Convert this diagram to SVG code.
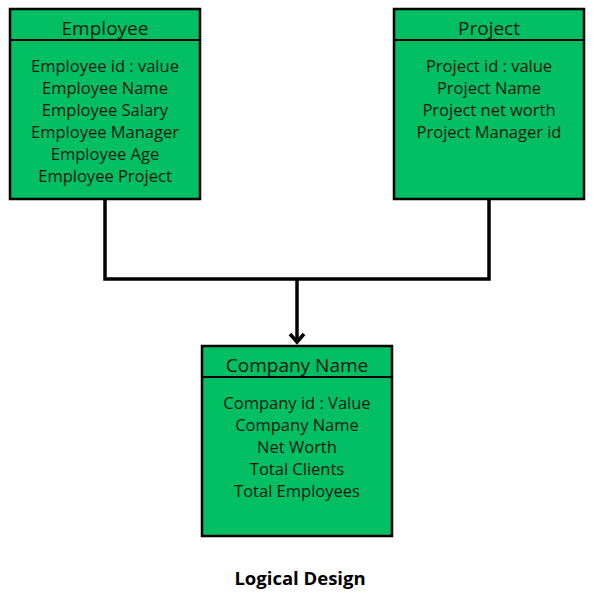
<svg xmlns="http://www.w3.org/2000/svg" width="593" height="595" viewBox="0 0 593 595">
<style>
.box{fill:#02BF63;stroke:#000;stroke-width:2.5}
.div{stroke:#000;stroke-width:2}
.t{font-family:"Open Sans","Liberation Sans",sans-serif;font-size:19px;fill:#0a1a10;text-anchor:middle}
.a{font-family:"Open Sans","Liberation Sans",sans-serif;font-size:16.5px;fill:#0a1a10;text-anchor:middle}
.c{fill:none;stroke:#000;stroke-width:3.5}
</style>
<rect width="593" height="595" fill="#fff"/>
<g id="connectors">
<polyline class="c" points="105,199 105,279 489,279 489,199"/>
<line class="c" x1="297" y1="279" x2="297" y2="341"/>
<polyline points="290,334 297,342 304,334" fill="none" stroke="#000" stroke-width="3.5"/>
</g>
<g id="employee">
<rect class="box" x="10" y="9" width="190" height="190"/>
<line class="div" x1="10" y1="40" x2="200" y2="40"/>
<text class="t" x="105" y="35">Employee</text>
<text class="a" x="105" y="72">Employee id : value</text>
<text class="a" x="105" y="94">Employee Name</text>
<text class="a" x="105" y="116">Employee Salary</text>
<text class="a" x="105" y="138">Employee Manager</text>
<text class="a" x="105" y="160">Employee Age</text>
<text class="a" x="105" y="182">Employee Project</text>
</g>
<g id="project">
<rect class="box" x="394" y="9" width="190" height="190"/>
<line class="div" x1="394" y1="40" x2="584" y2="40"/>
<text class="t" x="489" y="35">Project</text>
<text class="a" x="489" y="72">Project id : value</text>
<text class="a" x="489" y="94">Project Name</text>
<text class="a" x="489" y="116">Project net worth</text>
<text class="a" x="489" y="138">Project Manager id</text>
</g>
<g id="company">
<rect class="box" x="202" y="346" width="190" height="190"/>
<line class="div" x1="202" y1="377" x2="392" y2="377"/>
<text class="t" x="297" y="372">Company Name</text>
<text class="a" x="297" y="409">Company id : Value</text>
<text class="a" x="297" y="431">Company Name</text>
<text class="a" x="297" y="453">Net Worth</text>
<text class="a" x="297" y="475">Total Clients</text>
<text class="a" x="297" y="497">Total Employees</text>
</g>
<text x="300" y="585" font-family="Open Sans,Liberation Sans,sans-serif" font-size="18.5" font-weight="bold" text-anchor="middle" fill="#000">Logical Design</text>
</svg>
